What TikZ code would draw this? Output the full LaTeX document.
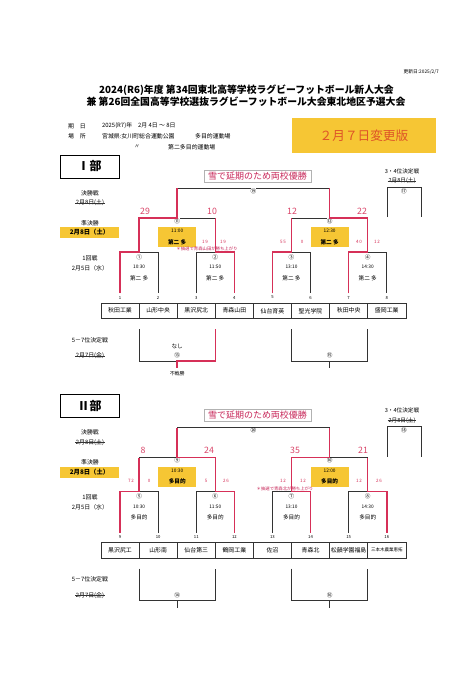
\documentclass[tikz,border=0pt]{standalone}
\usepackage{fontspec}
\setmainfont{Noto Sans CJK JP}
\usetikzlibrary{positioning}

\definecolor{winred}{RGB}{214,48,88}
\definecolor{notered}{RGB}{200,40,90}
\definecolor{marker}{RGB}{246,198,52}
\definecolor{verorange}{RGB}{222,84,40}
\newcommand\fsz[1]{\fontsize{#1}{#1}\selectfont}

\begin{document}
\begin{tikzpicture}[x=0.5mm, y=-0.5mm,
  bline/.style={draw=black!80, line width=0.9pt},
  win/.style={draw=winred, line width=2.2pt},
  lbl/.style={font=\fsz{8.4}, inner sep=0pt},
  small/.style={font=\fsz{6.8}, inner sep=0pt},
  venue/.style={font=\fsz{8}, inner sep=0pt},
  numlbl/.style={font=\fsz{6}, inner sep=0pt},
  circ/.style={font=\fsz{8}, inner sep=0pt},
  team/.style={font=\fsz{8.4}, inner sep=0pt},
  hand/.style={font=\fsz{12.5}, text=winred!90, inner sep=0pt},
  pts/.style={font=\fsz{6.4}, text=winred, inner sep=0pt},
  note/.style={font=\fsz{6.2}, text=notered, inner sep=0pt},
  secbox/.style={draw, line width=1.2pt, minimum width=29.5mm, minimum height=11.5mm, font=\bfseries\fsz{17}},
  datebox/.style={fill=marker, minimum width=29.5mm, minimum height=5.5mm, font=\bfseries\fsz{9}, inner sep=0pt},
  semibox/.style={fill=marker, minimum width=19mm, minimum height=10mm, inner sep=0pt},
  snow/.style={draw=black!30, fill=white, font=\fsz{12.8}, text=notered, inner sep=0pt, minimum width=53.5mm, minimum height=6mm},
]
\fill[white] (0,0) rectangle (474,690);
\useasboundingbox (0,0) rectangle (474,690);

% header
\node[small, anchor=east] (upd) at (439,72) {更新日:2025/2/7};
\node[font=\bfseries\fsz{14}] (title1) at (246.5,90) {2024(R6)年度 第34回東北高等学校ラグビーフットボール新人大会};
\node[font=\bfseries\fsz{14}] (title2) at (246,102) {兼 第26回全国高等学校選抜ラグビーフットボール大会東北地区予選大会};
\node[lbl, anchor=west] (kijitsu) at (68,126) {期\quad 日};
\node[lbl, anchor=west] (dates) at (102,126) {2025(R7)年　2月 4日 ～ 8日};
\node[lbl, anchor=west] (basho) at (68,136) {場\quad 所};
\node[lbl, anchor=west] (park) at (102,136) {宮城県:女川町総合運動公園};
\node[lbl, anchor=west] (field1) at (195,136) {多目的運動場};
\node[lbl] (ditto) at (137,147) {〃};
\node[lbl, anchor=west] (field2) at (168,147) {第二多目的運動場};
\node[fill=marker, minimum width=72mm, minimum height=17.5mm, inner sep=0pt] (verbox) at (364,135.5) {};
\node[font=\fsz{18}, text=verorange] (ver) at (verbox.center) {２月７日変更版};

% both divisions
\foreach \dy/\sname/\base/\ven/\semL/\semR/\timeL/\timeR/\conL/\conR/\finN/\thrN in
  {0/Ⅰ/0/第二 多/⑪/⑫/11:00/12:30/⑬/⑮/⑲/⑰,
   239.5/Ⅱ/8/多目的/⑨/⑩/10:30/12:00/⑭/⑯/⑳/⑱} {
  \node[secbox] (sec\base) at (89.5,166.5+\dy) {\sname 部};
  \node[lbl] (fin\base) at (90,193+\dy) {決勝戦};
  \node[lbl] (findate\base) at (90,203+\dy) {2月8日(土)};
  \draw[black!80] ([xshift=-1pt]findate\base.west) -- ([xshift=1pt]findate\base.east);
  \node[lbl] (semi\base) at (90,223+\dy) {準決勝};
  \node[datebox] (semidate\base) at (89.5,232.5+\dy) {2月8日（土）};
  \node[lbl] (first\base) at (90,258+\dy) {1回戦};
  \node[lbl] (firstdate\base) at (90,268+\dy) {2月5日（水）};
  \node[lbl] (cons\base) at (90,340+\dy) {5－7位決定戦};
  \node[lbl] (consdate\base) at (90,356+\dy) {2月7日(金)};
  \draw[black!80] ([xshift=-1pt]consdate\base.west) -- ([xshift=1pt]consdate\base.east);

  % first round
  \foreach \m/\t in {0/10:30, 1/11:50, 2/13:10, 3/14:30} {
    \pgfmathsetmacro\xl{120.05+76.2*\m}
    \pgfmathsetmacro\xr{\xl+38.1}
    \pgfmathsetmacro\xc{\xl+19.05}
    \pgfmathtruncatemacro\cn{\m+1+\base/2}
    \draw[bline] (\xl,293+\dy) -- (\xl,252+\dy) -- (\xr,252+\dy) -- (\xr,293+\dy);
    \node[circ] (r\cn) at (\xc,257+\dy) {\char\numexpr"245F+\cn\relax};
    \node[small] (rt\cn) at (\xc,267+\dy) {\t};
    \node[venue] (rv\cn) at (\xc,278+\dy) {\ven};
  }

  % semi finals and final
  \draw[bline] (139.1,252+\dy) -- (139.1,218+\dy) -- (215.3,218+\dy) -- (215.3,252+\dy);
  \draw[bline] (291.5,252+\dy) -- (291.5,218+\dy) -- (367.7,218+\dy) -- (367.7,252+\dy);
  \draw[bline] (177.2,218+\dy) -- (177.2,188+\dy) -- (329.6,188+\dy) -- (329.6,218+\dy);
  \node[semibox] (sbL\base) at (177.2,237+\dy) {};
  \node[semibox] (sbR\base) at (329.6,237+\dy) {};
  \node[small] (stL\base) at (177.2,231+\dy) {\timeL};
  \node[venue, font=\bfseries\fsz{8}] (svL\base) at (177.2,242+\dy) {\ven};
  \node[small] (stR\base) at (329.6,231+\dy) {\timeR};
  \node[venue, font=\bfseries\fsz{8}] (svR\base) at (329.6,242+\dy) {\ven};
  \node[circ, fill=white] (scL\base) at (177.2,221+\dy) {\semL};
  \node[circ, fill=white] (scR\base) at (329.6,221+\dy) {\semR};
  \node[circ, fill=white] (fc\base) at (253.4,191+\dy) {\finN};
  \node[snow] (snow\base) at (257.5,176+\dy) {雪で延期のため両校優勝};

  % 3rd place
  \node[lbl, font=\fsz{8}] (third\base) at (402,171+\dy) {3・4位決定戦};
  \node[lbl, font=\fsz{8}] (thirddate\base) at (402,181+\dy) {2月8日(土)};
  \draw[black!80] ([xshift=-1pt]thirddate\base.west) -- ([xshift=1pt]thirddate\base.east);
  \draw[bline] (387,217+\dy) -- (387,187+\dy) -- (421,187+\dy) -- (421,217+\dy);
  \node[circ, fill=white] (tc\base) at (404,191+\dy) {\thrN};

  % draw numbers and team row
  \foreach \i in {1,...,8} {
    \pgfmathtruncatemacro\num{\i+\base}
    \node[numlbl] (n\num) at (120.05+38.1*\i-38.1,297.5+\dy) {\num};
  }
  \draw[bline] (101,303+\dy) rectangle (406,318.5+\dy);
  \foreach \k in {1,...,7}
    \draw[bline] (101+38.1*\k,303+\dy) -- ++(0,15.5);

  % 5-7 place
  \draw[bline] (139.1,329+\dy) -- (139.1,361+\dy) -- (215.3,361+\dy) -- (215.3,329+\dy);
  \draw[bline] (177.2,361+\dy) -- (177.2,368+\dy);
  \draw[bline] (291.5,329+\dy) -- (291.5,361+\dy) -- (367.7,361+\dy) -- (367.7,329+\dy);
  \draw[bline] (329.6,361+\dy) -- (329.6,368+\dy);
  \node[circ] (cc\base) at (177.2,355.5+\dy) {\conL};
  \node[circ] (cd\base) at (329.6,355.5+\dy) {\conR};
}

% team names
\foreach \i/\tm in {1/秋田工業, 2/山形中央, 3/黒沢尻北, 4/青森山田, 5/仙台育英, 6/聖光学院, 7/秋田中央, 8/盛岡工業}
  \node[team] (tm\i) at (120.05+38.1*\i-38.1,310.75) {\tm};
\foreach \i/\tm in {9/黒沢尻工, 10/山形南, 11/仙台第三, 12/鶴岡工業, 13/佐沼, 14/青森北, 15/松韻学園福島}
  \node[team] (tm\i) at (120.05+38.1*\i-342.9,550.25) {\tm};
\node[team, font=\fsz{6.4}] (tm16) at (386.75,550.25) {三本木農業恵拓};

% I: results
\draw[win] (120.05,293) |- (139.1,252) -- (139.1,218) -- (177.2,218) -- (177.2,188);
\draw[win] (234.35,293) |- (215.3,252) -- (215.3,218);
\draw[win] (272.45,293) |- (291.5,252) -- (291.5,218);
\draw[win] (348.65,293) |- (367.7,252) -- (367.7,218) -- (329.6,218) -- (329.6,188);
\draw[win] (215.3,329) |- (177.2,361) -- (177.2,368);
\node[lbl, font=\fsz{8}] (nashi) at (177.2,346) {なし};
\node[lbl, font=\fsz{7}] (fusen) at (177.2,373.5) {不戦勝};
\node[hand] (s1) at (145,211) {29};
\node[hand] (s2) at (212,211) {10};
\node[hand] (s3) at (292,211) {12};
\node[hand] (s4) at (362,211) {22};
\node[pts] (p1) at (205,242) {1\,9};
\node[pts] (p2) at (223,242) {1\,9};
\node[pts] (p3) at (283,242) {5\,5};
\node[pts] (p4) at (302,242) {0};
\node[pts] (p5) at (359,242) {4\,0};
\node[pts] (p6) at (377,242) {1\,2};
\node[note] (lotI) at (207,248.5) {＊抽選で青森山田が勝ち上がり};

% II: results
\draw[win] (120.05,532.5) |- (139.1,491.5) -- (139.1,457.5);
\draw[win] (234.35,532.5) |- (215.3,491.5) -- (215.3,457.5) -- (177.2,457.5) -- (177.2,427.5);
\draw[win] (310.55,532.5) |- (291.5,491.5) -- (291.5,457.5) -- (329.6,457.5) -- (329.6,427.5);
\draw[win] (386.75,532.5) |- (367.7,491.5) -- (367.7,457.5);
\node[hand] (s5) at (143,450) {8};
\node[hand] (s6) at (209,450) {24};
\node[hand] (s7) at (295,450) {35};
\node[hand] (s8) at (363,450) {21};
\node[pts] (p7) at (131,481) {7\,2};
\node[pts] (p8) at (149,481) {0};
\node[pts] (p9) at (206,481) {5};
\node[pts] (p10) at (226,481) {2\,6};
\node[pts] (p11) at (283,481) {1\,2};
\node[pts] (p12) at (303,481) {1\,2};
\node[pts] (p13) at (359,481) {1\,2};
\node[pts] (p14) at (379,481) {2\,6};
\node[note] (lotII) at (285,489) {＊抽選で青森北が勝ち上がり};
\end{tikzpicture}
\end{document}
